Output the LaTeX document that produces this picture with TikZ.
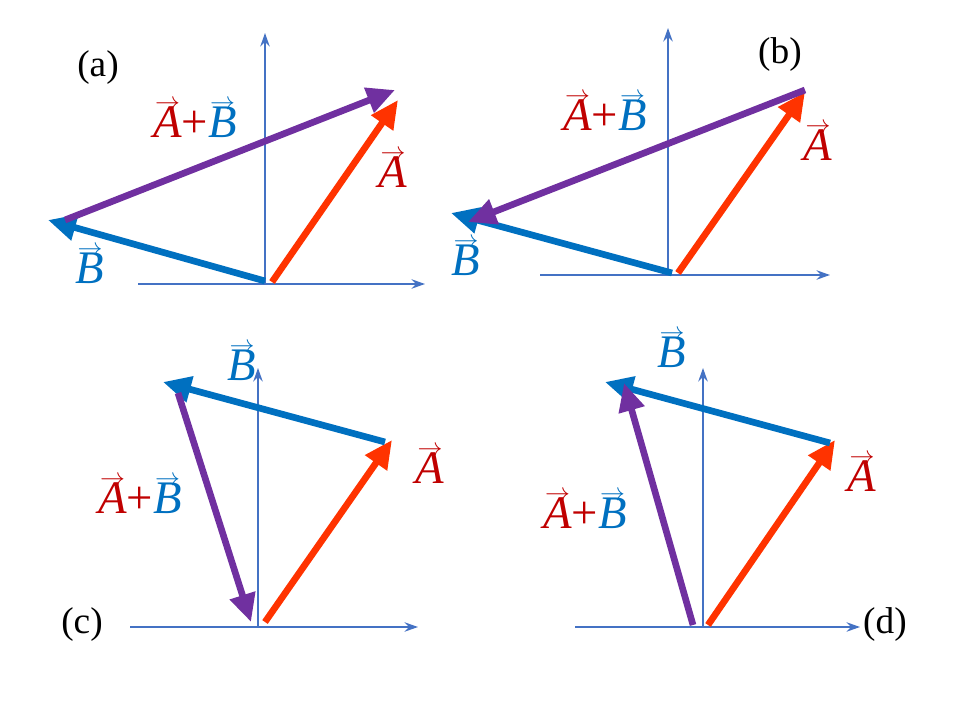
\documentclass[tikz,border=0pt]{standalone}
\usepackage{fontspec}
\setmainfont{Liberation Serif}
\usetikzlibrary{arrows.meta}
\definecolor{axc}{HTML}{4472C4}
\definecolor{vred}{HTML}{FF3300}
\definecolor{lred}{HTML}{C00000}
\definecolor{vblue}{HTML}{0070C0}
\definecolor{vpur}{HTML}{7030A0}
\newcommand\vlet[1]{\ooalign{\textit{#1}\cr\hidewidth\raisebox{0.6em}{\scalebox{0.75}{$\rightarrow$}}\hidewidth\cr}}
\newcommand\VA{\textcolor{lred}{\vlet{A}}}
\newcommand\VB{\textcolor{vblue}{\vlet{B}}}
\newcommand\VS{\VA\textcolor{lred}{+}\VB}
\begin{document}
\begin{tikzpicture}[x=0.75pt,y=-0.75pt,
  axis/.style={axc,line width=1.5pt,-{Stealth[length=10pt,width=7pt]}},
  vec/.style={line width=5pt,-{Triangle[length=21pt,width=19pt]}},
  lab/.style={font=\fontsize{35}{35}\selectfont,inner sep=0pt},
  plab/.style={font=\fontsize{28}{28}\selectfont,inner sep=0pt}]
\useasboundingbox (0,0) rectangle (960,720);
% (a)
\coordinate (ax1) at (138,284); \coordinate (ax2) at (425,284);
\coordinate (ay1) at (265,284); \coordinate (ay2) at (265,33);
\draw[axis] (ax1) -- (ax2); \draw[axis] (ay1) -- (ay2);
\coordinate (aA0) at (272,282); \coordinate (aA1) at (398,100);
\coordinate (aB0) at (265,281); \coordinate (aB1) at (48,220);
\coordinate (aS0) at (65,220); \coordinate (aS1) at (395,90);
\draw[vec,vred] (aA0) -- (aA1);
\draw[vec,vblue] (aB0) -- (aB1);
\draw[vec,vpur] (aS0) -- (aS1);
\node[plab] (la) at (98,68) {(a)};
\node[lab] (laS) at (195,122) {\VS};
\node[lab] (laA) at (393,172) {\VA};
\node[lab] (laB) at (90,268) {\VB};
% (b)
\coordinate (bx1) at (540,275); \coordinate (bx2) at (830,275);
\coordinate (by1) at (668,275); \coordinate (by2) at (668,28);
\draw[axis] (bx1) -- (bx2); \draw[axis] (by1) -- (by2);
\coordinate (bA0) at (678,273); \coordinate (bA1) at (805,92);
\coordinate (bB0) at (672,273); \coordinate (bB1) at (451,213);
\coordinate (bS0) at (805,90); \coordinate (bS1) at (468,222);
\draw[vec,vred] (bA0) -- (bA1);
\draw[vec,vblue] (bB0) -- (bB1);
\draw[vec,vpur] (bS0) -- (bS1);
\node[plab] (lb) at (780,55) {(b)};
\node[lab] (lbS) at (605,115) {\VS};
\node[lab] (lbA) at (818,145) {\VA};
\node[lab] (lbB) at (466,260) {\VB};
% (c)
\coordinate (cx1) at (130,627); \coordinate (cx2) at (418,627);
\coordinate (cy1) at (258,627); \coordinate (cy2) at (258,368);
\draw[axis] (cx1) -- (cx2); \draw[axis] (cy1) -- (cy2);
\coordinate (cA0) at (265,622); \coordinate (cA1) at (392,440);
\coordinate (cB0) at (385,442); \coordinate (cB1) at (163,382);
\coordinate (cS0) at (178,393); \coordinate (cS1) at (251,622);
\draw[vec,vred] (cA0) -- (cA1);
\draw[vec,vblue] (cB0) -- (cB1);
\draw[vec,vpur] (cS0) -- (cS1);
\node[plab] (lc) at (82,625) {(c)};
\node[lab] (lcB) at (242,365) {\VB};
\node[lab] (lcA) at (430,468) {\VA};
\node[lab] (lcS) at (140,498) {\VS};
% (d)
\coordinate (dx1) at (575,627); \coordinate (dx2) at (860,627);
\coordinate (dy1) at (703,627); \coordinate (dy2) at (703,368);
\draw[axis] (dx1) -- (dx2); \draw[axis] (dy1) -- (dy2);
\coordinate (dA0) at (708,625); \coordinate (dA1) at (835,440);
\coordinate (dB0) at (830,443); \coordinate (dB1) at (605,382);
\coordinate (dS0) at (693,625); \coordinate (dS1) at (624,383);
\draw[vec,vred] (dA0) -- (dA1);
\draw[vec,vblue] (dB0) -- (dB1);
\draw[vec,vpur] (dS0) -- (dS1);
\node[plab] (ld) at (885,625) {(d)};
\node[lab] (ldB) at (672,352) {\VB};
\node[lab] (ldA) at (862,476) {\VA};
\node[lab] (ldS) at (585,513) {\VS};
\end{tikzpicture}
\end{document}
